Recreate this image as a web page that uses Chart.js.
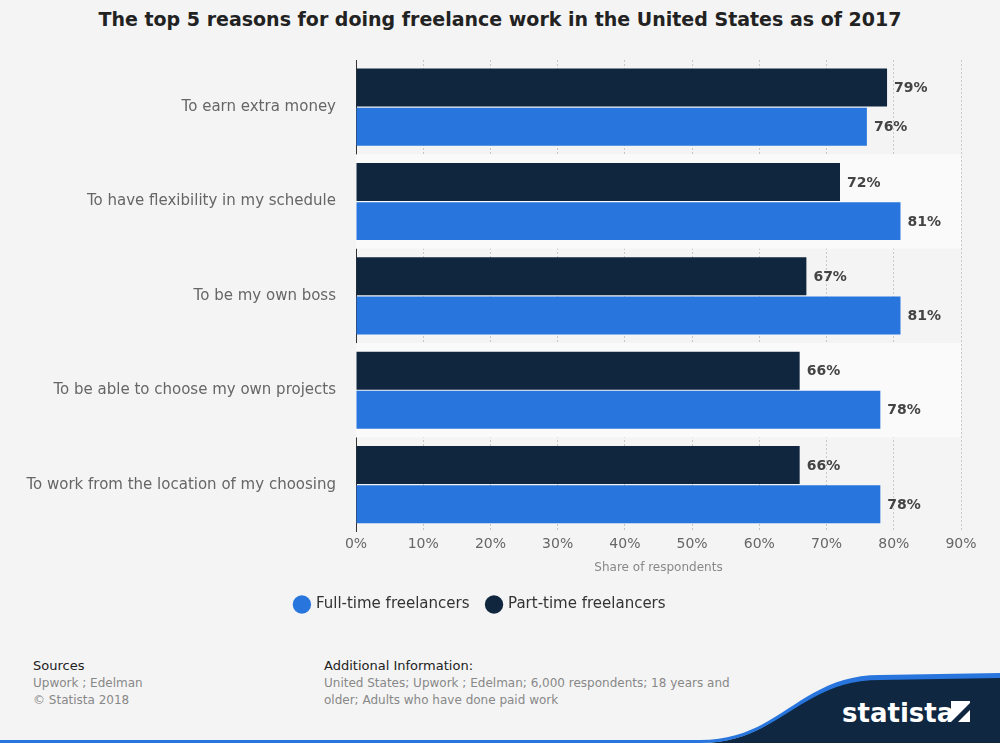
<!DOCTYPE html>
<html>
<head>
<meta charset="utf-8">
<script src="https://cdn.jsdelivr.net/npm/chart.js@4"></script>
<style>
  body { margin:0; width:1000px; height:743px; background:#f4f4f4; font-family:"DejaVu Sans", sans-serif; position:relative; overflow:hidden; }
  #titulo { position:absolute; top:8px; left:0; width:1000px; text-align:center; font-weight:bold; font-size:19px; color:#222; }
  #caja { position:absolute; top:32px; left:0; width:1000px; height:590px; }
  .pie { position:absolute; font-size:12px; color:#888; line-height:17px; }
  .pie b { font-weight:normal; color:#222; font-size:13px; }
</style>
</head>
<body>
<div id="titulo">The top 5 reasons for doing freelance work in the United States as of 2017</div>
<div id="caja"><canvas id="grafico"></canvas></div>
<div class="pie" style="left:33px; top:657px;"><b>Sources</b><br>Upwork ; Edelman<br>© Statista 2018</div>
<div class="pie" style="left:324px; top:657px; width:430px;"><b>Additional Information:</b><br>United States; Upwork ; Edelman; 6,000 respondents; 18 years and older; Adults who have done paid work</div>
<svg style="position:absolute; left:0; top:670px;" width="1000" height="73">
  <path d="M700,73 C780,73 800,8 880,8 L1000,5 L1000,73 Z" fill="#0f2741"/>
  <path d="M0,70 L700,70 C780,70 800,5 880,5 L1000,3 L1000,8 L880,10 C800,10 780,73 700,73 L0,73 Z" fill="#2876dd"/>
  <text x="842" y="52" font-family="DejaVu Sans" font-weight="bold" font-size="26" fill="#fff">statista</text>
  <rect x="951" y="31" width="19" height="21" fill="#fff"/>
  <path d="M951,52 L970,33 L970,40 L958,52 Z" fill="#0f2741"/>
</svg>
<script>
// Datos
const categorias = ['To earn extra money', 'To have flexibility in my schedule', 'To be my own boss', 'To be able to choose my own projects', 'To work from the location of my choosing'];
const tiempoCompleto = [76, 81, 81, 78, 78];
const tiempoParcial = [79, 72, 67, 66, 66];
const ticksX = [0, 10, 20, 30, 40, 50, 60, 70, 80, 90];

// Franjas alternas de fondo
const franjas = {
  id: 'franjas',
  beforeDatasetsDraw(chart) {
    const { ctx, chartArea, scales } = chart;
    const y = scales.y;
    const alto = (chartArea.bottom - chartArea.top) / categorias.length;
    ctx.save();
    ctx.fillStyle = '#fafafa';
    categorias.forEach((c, i) => {
      if (i % 2 === 1) ctx.fillRect(chartArea.left, y.getPixelForValue(i) - alto / 2, chartArea.right - chartArea.left, alto);
    });
    ctx.restore();
  }
};

// Etiquetas de valores
const etiquetas = {
  id: 'etiquetas',
  afterDatasetsDraw(chart) {
    const ctx = chart.ctx;
    ctx.save();
    ctx.font = 'bold 14px "DejaVu Sans"';
    ctx.fillStyle = '#444';
    ctx.textBaseline = 'middle';
    chart.data.datasets.forEach((ds, i) => {
      chart.getDatasetMeta(i).data.forEach((bar, j) => {
        ctx.fillText(ds.data[j] + '%', bar.x + 7, bar.y + 1);
      });
    });
    ctx.restore();
  }
};

new Chart(document.getElementById('grafico'), {
  type: 'bar',
  data: {
    labels: categorias,
    datasets: [
      { label: 'Part-time freelancers', data: tiempoParcial, backgroundColor: '#10263e', categoryPercentage: 0.83, barPercentage: 0.97 },
      { label: 'Full-time freelancers', data: tiempoCompleto, backgroundColor: '#2876dd', categoryPercentage: 0.83, barPercentage: 0.97 }
    ]
  },
  options: {
    indexAxis: 'y',
    responsive: true,
    maintainAspectRatio: false,
    animation: false,
    layout: { padding: { top: 28, right: 39, bottom: 0 } },
    scales: {
      x: {
        min: 0, max: 90,
        afterBuildTicks: (ax) => { ax.ticks = ticksX.map(v => ({ value: v })); },
        ticks: { callback: v => v + '%', color: '#666', font: { family: 'DejaVu Sans', size: 14 }, padding: 4 },
        grid: { color: '#c8c8c8', borderDash: [2, 2], drawTicks: false },
        border: { display: false, dash: [2, 2] },
        title: { display: true, text: 'Share of respondents', color: '#888', font: { family: 'DejaVu Sans', size: 12 }, padding: { top: 4 } }
      },
      y: {
        afterFit: (ax) => { ax.width = 356; },
        ticks: { color: '#666', font: { family: 'DejaVu Sans', size: 15 }, padding: 12 },
        grid: { display: false },
        border: { color: '#333', width: 1 }
      }
    },
    plugins: {
      legend: {
        position: 'bottom',
        reverse: true,
        labels: { usePointStyle: true, pointStyle: 'circle', boxWidth: 13, boxHeight: 13, padding: 18, color: '#333', font: { family: 'DejaVu Sans', size: 15 } }
      },
      tooltip: { enabled: false }
    }
  },
  plugins: [franjas, etiquetas]
});
</script>
</body>
</html>
